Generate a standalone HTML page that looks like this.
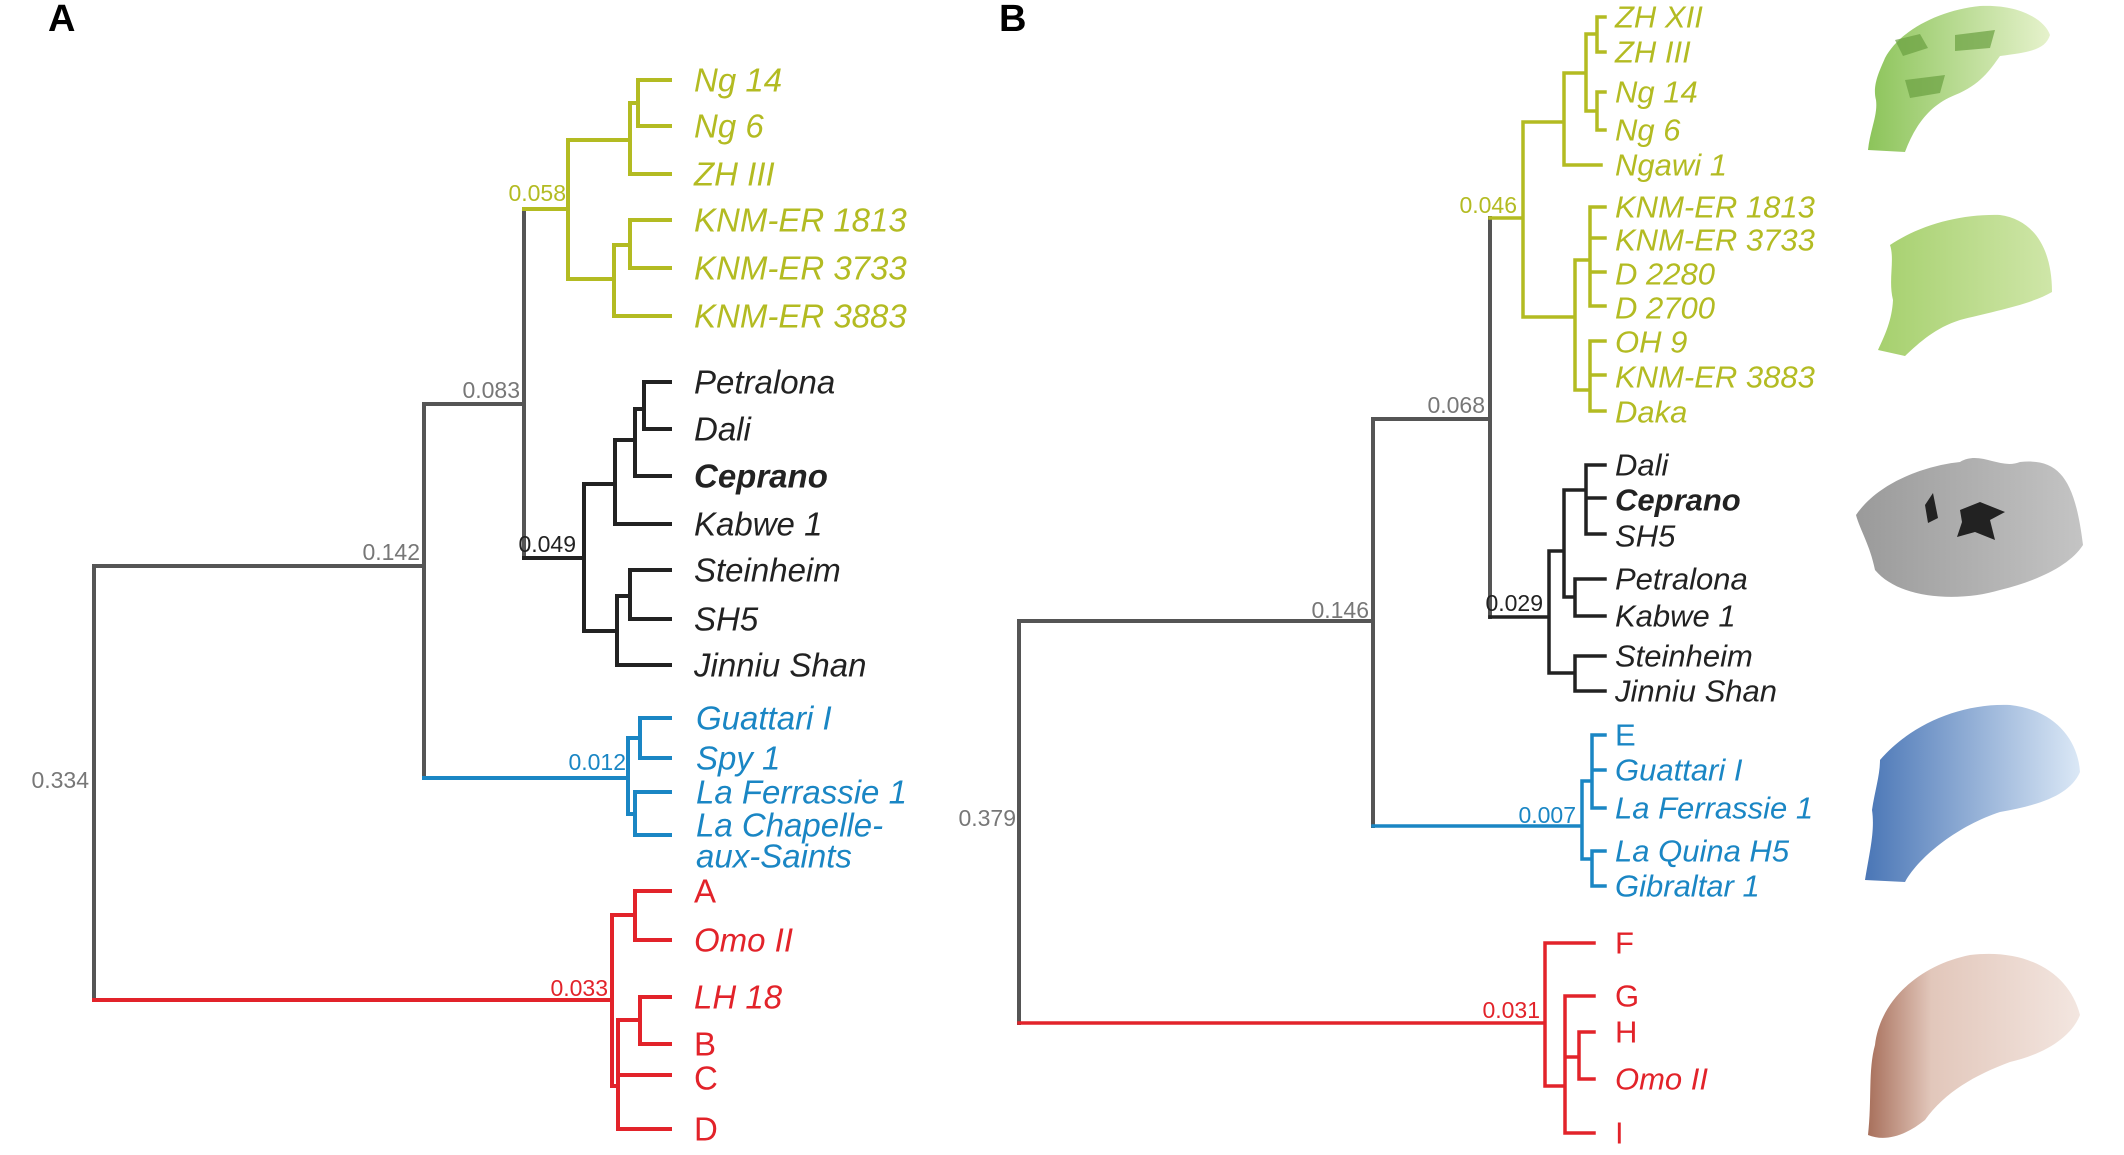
<!DOCTYPE html>
<html><head><meta charset="utf-8"><style>
html,body{margin:0;padding:0;background:#fff;}
svg{display:block;}
.l{font-family:"Liberation Sans",sans-serif;font-style:italic;dominant-baseline:central;}
.u{font-family:"Liberation Sans",sans-serif;font-style:normal;dominant-baseline:central;}
.n{font-family:"Liberation Sans",sans-serif;font-size:23px;dominant-baseline:central;text-anchor:end;}
</style></head><body>
<svg width="2124" height="1155" viewBox="0 0 2124 1155" xmlns="http://www.w3.org/2000/svg">
<defs>
<linearGradient id="gG" x1="0" x2="1"><stop offset="0" stop-color="#8cc45a"/><stop offset="1" stop-color="#e6f2cc"/></linearGradient>
<linearGradient id="gG2" x1="0" x2="1"><stop offset="0" stop-color="#a6d06e"/><stop offset="1" stop-color="#cfe6a8"/></linearGradient>
<linearGradient id="gK" x1="0" x2="1"><stop offset="0" stop-color="#9a9a9a"/><stop offset="1" stop-color="#c4c4c4"/></linearGradient>
<linearGradient id="gB" x1="0" x2="1"><stop offset="0" stop-color="#4a76b6"/><stop offset="1" stop-color="#dbe8f6"/></linearGradient>
<linearGradient id="gR" x1="0" x2="1"><stop offset="0" stop-color="#a8705c"/><stop offset="0.3" stop-color="#e2c7bb"/><stop offset="1" stop-color="#f3e6e0"/></linearGradient>
</defs>
<text x="48" y="31" font-family="Liberation Sans,sans-serif" font-weight="bold" font-size="38">A</text>
<text x="999" y="31" font-family="Liberation Sans,sans-serif" font-weight="bold" font-size="38">B</text>

<g fill="none" stroke-width="4" stroke-linecap="square">
<path stroke="#555" d="M94 566V1000M94 566H424M424 404V778M424 404H524M524 209V558"/>
<path stroke="#b3bb22" d="M524 209H568M568 140V279M568 140H630M630 103V174M630 103H638M638 80V126M638 80H670M638 126H670M630 174H670M568 279H614M614 245V316M614 245H630M630 220V268M630 220H670M630 268H670M614 316H670"/>
<path stroke="#222" d="M524 558H584M584 484V631M584 484H615M615 440V524M615 440H635M635 409V476M635 409H644M644 382V429M644 382H670M644 429H670M635 476H670M615 524H670M584 631H617M617 596V665M617 596H630M630 570V619M630 570H670M630 619H670M617 665H670"/>
<path stroke="#1a86c4" d="M424 778H628M628 738V814M628 738H640M640 718V758M640 718H670M640 758H670M628 814H635M635 792V835M635 792H670M635 835H670"/>
<path stroke="#e2232a" d="M94 1000H612M612 915V1086M612 915H635M635 891V940M635 891H670M635 940H670M612 1086H618M618 1020V1129M618 1020H640M640 997V1044M640 997H670M640 1044H670M618 1075H670M618 1129H670"/>

<path stroke="#555" d="M1019 621V1023M1019 621H1373M1373 419V826M1373 419H1490M1490 218V617"/>
<path stroke="#b3bb22" stroke-width="3.5" d="M1490 218H1523M1523 122V317M1523 122H1564M1564 73V165M1564 73H1586M1586 34V111M1586 34H1597M1597 17V52M1597 17H1605M1597 52H1605M1586 111H1597M1597 92V130M1597 92H1605M1597 130H1605M1564 165H1601M1523 317H1575M1575 260V390M1575 260H1590M1590 207V306M1590 207H1605M1590 238H1605M1590 272H1605M1590 306H1605M1575 390H1590M1590 341V411M1590 341H1605M1590 375H1605M1590 411H1605"/>
<path stroke="#222" stroke-width="3.5" d="M1490 617H1549M1549 551V673M1549 551H1564M1564 490V597M1564 490H1586M1586 465V534M1586 465H1605M1586 498H1605M1586 534H1605M1564 597H1575M1575 579V616M1575 579H1605M1575 616H1605M1549 673H1575M1575 656V691M1575 656H1605M1575 691H1605"/>
<path stroke="#1a86c4" stroke-width="3.5" d="M1373 826H1582M1582 781V859M1582 781H1592M1592 735V808M1592 735H1605M1592 770H1605M1592 808H1605M1582 859H1592M1592 851V886M1592 851H1605M1592 886H1605"/>
<path stroke="#e2232a" stroke-width="3.5" d="M1019 1023H1545M1545 943V1086M1545 943H1594M1545 1086H1565M1565 996V1133M1565 996H1594M1565 1057H1579M1579 1032V1079M1579 1032H1594M1579 1079H1594M1565 1133H1594"/>
</g>

<g fill="#777">
<text class="n" x="89" y="780">0.334</text>
<text class="n" x="420" y="552">0.142</text>
<text class="n" x="520" y="390">0.083</text>
<text class="n" x="566" y="193" fill="#b3bb22">0.058</text>
<text class="n" x="576" y="544" fill="#222">0.049</text>
<text class="n" x="626" y="762" fill="#1a86c4">0.012</text>
<text class="n" x="608" y="988" fill="#e2232a">0.033</text>
<text class="n" x="1016" y="818">0.379</text>
<text class="n" x="1369" y="610">0.146</text>
<text class="n" x="1485" y="405">0.068</text>
<text class="n" x="1517" y="205" fill="#b3bb22">0.046</text>
<text class="n" x="1543" y="603" fill="#222">0.029</text>
<text class="n" x="1576" y="815" fill="#1a86c4">0.007</text>
<text class="n" x="1540" y="1010" fill="#e2232a">0.031</text>
</g>

<g font-size="33">
<g fill="#b3bb22">
<text class="l" x="694" y="80">Ng 14</text>
<text class="l" x="694" y="126">Ng 6</text>
<text class="l" x="694" y="174">ZH III</text>
<text class="l" x="694" y="220">KNM-ER 1813</text>
<text class="l" x="694" y="268">KNM-ER 3733</text>
<text class="l" x="694" y="316">KNM-ER 3883</text>
</g>
<g fill="#222">
<text class="l" x="694" y="382">Petralona</text>
<text class="l" x="694" y="429">Dali</text>
<text class="l" x="694" y="476" font-weight="bold">Ceprano</text>
<text class="l" x="694" y="524">Kabwe 1</text>
<text class="l" x="694" y="570">Steinheim</text>
<text class="l" x="694" y="619">SH5</text>
<text class="l" x="694" y="665">Jinniu Shan</text>
</g>
<g fill="#1a86c4">
<text class="l" x="696" y="718">Guattari I</text>
<text class="l" x="696" y="758">Spy 1</text>
<text class="l" x="696" y="792">La Ferrassie 1</text>
<text class="l" x="696" y="825">La Chapelle-</text>
<text class="l" x="696" y="856">aux-Saints</text>
</g>
<g fill="#e2232a">
<text class="u" x="694" y="891">A</text>
<text class="l" x="694" y="940">Omo II</text>
<text class="l" x="694" y="997">LH 18</text>
<text class="u" x="694" y="1044">B</text>
<text class="u" x="694" y="1078">C</text>
<text class="u" x="694" y="1129">D</text>
</g>
</g>

<g font-size="31">
<g fill="#b3bb22">
<text class="l" x="1615" y="17">ZH XII</text>
<text class="l" x="1615" y="52">ZH III</text>
<text class="l" x="1615" y="92">Ng 14</text>
<text class="l" x="1615" y="130">Ng 6</text>
<text class="l" x="1615" y="165">Ngawi 1</text>
<text class="l" x="1615" y="207">KNM-ER 1813</text>
<text class="l" x="1615" y="240">KNM-ER 3733</text>
<text class="l" x="1615" y="274">D 2280</text>
<text class="l" x="1615" y="308">D 2700</text>
<text class="l" x="1615" y="342">OH 9</text>
<text class="l" x="1615" y="377">KNM-ER 3883</text>
<text class="l" x="1615" y="412">Daka</text>
</g>
<g fill="#222">
<text class="l" x="1615" y="465">Dali</text>
<text class="l" x="1615" y="500" font-weight="bold">Ceprano</text>
<text class="l" x="1615" y="536">SH5</text>
<text class="l" x="1615" y="579">Petralona</text>
<text class="l" x="1615" y="616">Kabwe 1</text>
<text class="l" x="1615" y="656">Steinheim</text>
<text class="l" x="1615" y="691">Jinniu Shan</text>
</g>
<g fill="#1a86c4">
<text class="u" x="1615" y="735">E</text>
<text class="l" x="1615" y="770">Guattari I</text>
<text class="l" x="1615" y="808">La Ferrassie 1</text>
<text class="l" x="1615" y="851">La Quina H5</text>
<text class="l" x="1615" y="886">Gibraltar 1</text>
</g>
<g fill="#e2232a">
<text class="u" x="1615" y="943">F</text>
<text class="u" x="1615" y="996">G</text>
<text class="u" x="1615" y="1032">H</text>
<text class="l" x="1615" y="1079">Omo II</text>
<text class="u" x="1615" y="1133">I</text>
</g>
</g>

<!-- skulls -->
<path fill="url(#gG)" d="M1868 150 C1870 130 1878 115 1876 100 C1872 85 1880 70 1885 58 C1900 30 1940 10 1980 6 C2020 4 2045 20 2050 35 C2045 50 2030 52 2000 56 C1990 70 1980 85 1955 95 C1930 105 1915 125 1905 152 Z"/>
<path fill="#6aa040" opacity="0.7" d="M1895 40 l25 -6 l8 14 l-25 8 Z M1955 35 l40 -5 l-5 18 l-35 3 Z M1905 80 l40 -5 l-5 18 l-30 5 Z"/>
<path fill="url(#gG2)" d="M1878 350 C1885 335 1892 320 1893 300 C1888 280 1895 260 1890 245 C1920 225 1960 214 2000 215 C2035 220 2052 250 2052 292 C2030 305 1990 312 1960 320 C1935 328 1920 342 1905 356 Z"/>
<path fill="url(#gK)" d="M1856 515 C1880 480 1930 465 1960 462 C1980 450 2000 470 2020 462 C2060 458 2075 480 2083 545 C2070 565 2040 580 2000 590 C1960 602 1900 600 1875 570 C1870 545 1860 530 1856 515 Z"/>
<path fill="#222" d="M1960 510 l20 -8 l25 10 l-15 8 l5 20 l-20 -8 l-18 5 l5 -15 Z M1925 505 l8 -12 l5 25 l-10 5 Z"/>
<path fill="url(#gB)" d="M1865 880 C1870 850 1875 830 1872 810 C1875 790 1880 775 1880 760 C1910 725 1960 703 2010 705 C2055 710 2078 740 2080 772 C2070 795 2040 805 2000 812 C1960 825 1920 855 1905 882 Z"/>
<path fill="url(#gR)" d="M1868 1135 C1872 1100 1868 1070 1875 1045 C1880 1000 1920 965 1970 955 C2030 948 2070 975 2080 1015 C2070 1040 2040 1055 2010 1062 C1975 1075 1945 1092 1925 1120 C1905 1136 1885 1142 1868 1135 Z"/>
</svg>
</body></html>
